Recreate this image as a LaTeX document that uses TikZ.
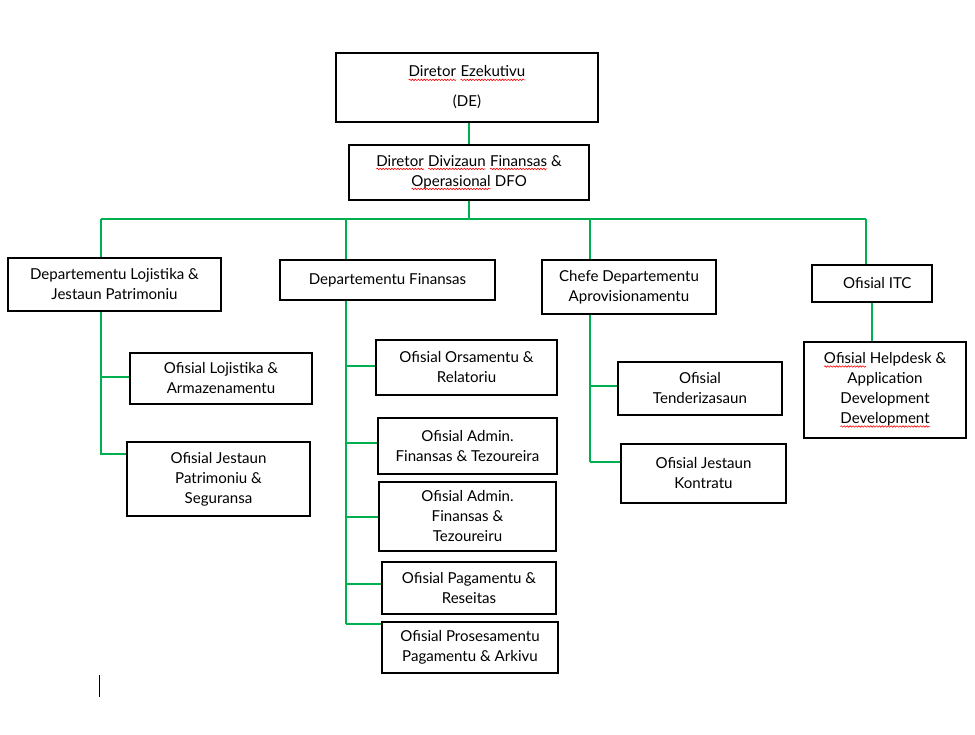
\documentclass[tikz,border=0pt]{standalone}
\usepackage{fontspec}
\setmainfont{Lato}
\usetikzlibrary{decorations.pathmorphing}
\definecolor{orggreen}{RGB}{0,176,80}
\newcommand{\sq}[1]{\tikz[baseline=(w.base)]{\node[draw=none, inner sep=0pt, outer sep=0pt,
      minimum width=0pt, minimum height=0pt] (w) {#1};
    \draw[red, line width=0.45pt, decorate, decoration={snake, amplitude=0.55pt, segment length=2.2pt}]
      ([yshift=-2.2pt]w.base west) -- ([yshift=-2.2pt]w.base east);}}

\begin{document}
\begin{tikzpicture}[x=0.75pt, y=-0.75pt,
    box/.style={draw, line width=1.5pt, align=center, inner sep=0pt,
      font=\fontsize{11.3}{15}\selectfont},
    sz/.style 2 args={minimum width=#1*0.75pt, minimum height=#2*0.75pt},
    link/.style={draw=orggreen, line width=1.5pt}]
    \useasboundingbox (0,0) rectangle (975,735);

    % top of the chart
    \node[box, sz={262}{69}] (de) at (467,87.5) {\sq{Diretor} \sq{Ezekutivu}\\[7.5pt](DE)};
    \node[box, sz={240}{55}] (dfo) at (469,172.5) {\sq{Diretor} \sq{Divizaun} \sq{Finansas} \&\\\sq{Operasional} DFO};

    % departments
    \node[box, sz={213}{53}] (lojis) at (114.5,284.5) {Departementu Lojistika \&\\Jestaun Patrimoniu};
    \node[box, sz={215}{40}] (fin) at (387.5,280) {Departementu Finansas};
    \node[box, sz={174}{54}] (chefe) at (629,287) {Chefe Departementu\\Aprovisionamentu};
    \node[box, sz={120}{37}] (itc) at (872,283.5) {\hspace{8pt}Ofisial ITC};

    % officers
    \node[box, sz={182}{51}] (lojis1) at (221,378.5) {Ofisial Lojistika \&\\Armazenamentu};
    \node[box, sz={183}{74}] (lojis2) at (218.5,479) {Ofisial Jestaun\\Patrimoniu \&\\Seguransa};
    \node[box, sz={181}{55}] (fin1) at (466.5,367.5) {Ofisial Orsamentu \&\\Relatoriu};
    \node[box, sz={179}{56}] (fin2) at (467.5,446) {Ofisial Admin.\\Finansas \& Tezoureira};
    \node[box, sz={177}{69}] (fin3) at (467.5,516.5) {Ofisial Admin.\\Finansas \&\\Tezoureiru};
    \node[box, sz={174}{52}] (fin4) at (469,588) {Ofisial Pagamentu \&\\Reseitas};
    \node[box, sz={176}{51}] (fin5) at (470,647.5) {Ofisial Prosesamentu\\Pagamentu \& Arkivu};
    \node[box, sz={164}{53}] (chefe1) at (700,388.5) {Ofisial\\Tenderizasaun};
    \node[box, sz={165}{59}] (chefe2) at (703.5,473.5) {Ofisial Jestaun\\Kontratu};
    \node[box, sz={162}{96}] (itc1) at (885,390) {\sq{Ofisial} Helpdesk \&\\Application\\Development\\\sq{Development}};

    % green lines
    \coordinate (bus) at (0,219);
    \coordinate (b1) at (101,219);
    \coordinate (b2) at (346,219);
    \coordinate (b3) at (590,219);
    \coordinate (b4) at (866,219);
    \draw[link] (dfo.north) -- (dfo.north |- de.south);
    \draw[link] (dfo.south) -- (dfo.south |- bus);
    \draw[link] (b1) -- (b4);
    \draw[link] (b1) -- (b1 |- lojis.north);
    \draw[link] (b2) -- (b2 |- fin.north);
    \draw[link] (b3) -- (b3 |- chefe.north);
    \draw[link] (b4) -- (b4 |- itc.north);
    \draw[link] (itc.south) -- (itc.south |- itc1.north);

    \draw[link] (b1 |- lojis.south) -- (101,454) -- (lojis2.west |- 0,454);
    \draw[link] (101,377) -- (lojis1.west |- 0,377);

    \draw[link] (b2 |- fin.south) -- (346,624);
    \foreach \c/\y in {fin1/366, fin2/443, fin3/517, fin4/584, fin5/624}
        \draw[link] (346,\y) -- (\c.west |- 0,\y);

    \draw[link] (b3 |- chefe.south) -- (590,462);
    \foreach \c/\y in {chefe1/386, chefe2/462}
        \draw[link] (590,\y) -- (\c.west |- 0,\y);

    \draw[line width=0.75pt] (99,675) -- (99,697);
\end{tikzpicture}
\end{document}
